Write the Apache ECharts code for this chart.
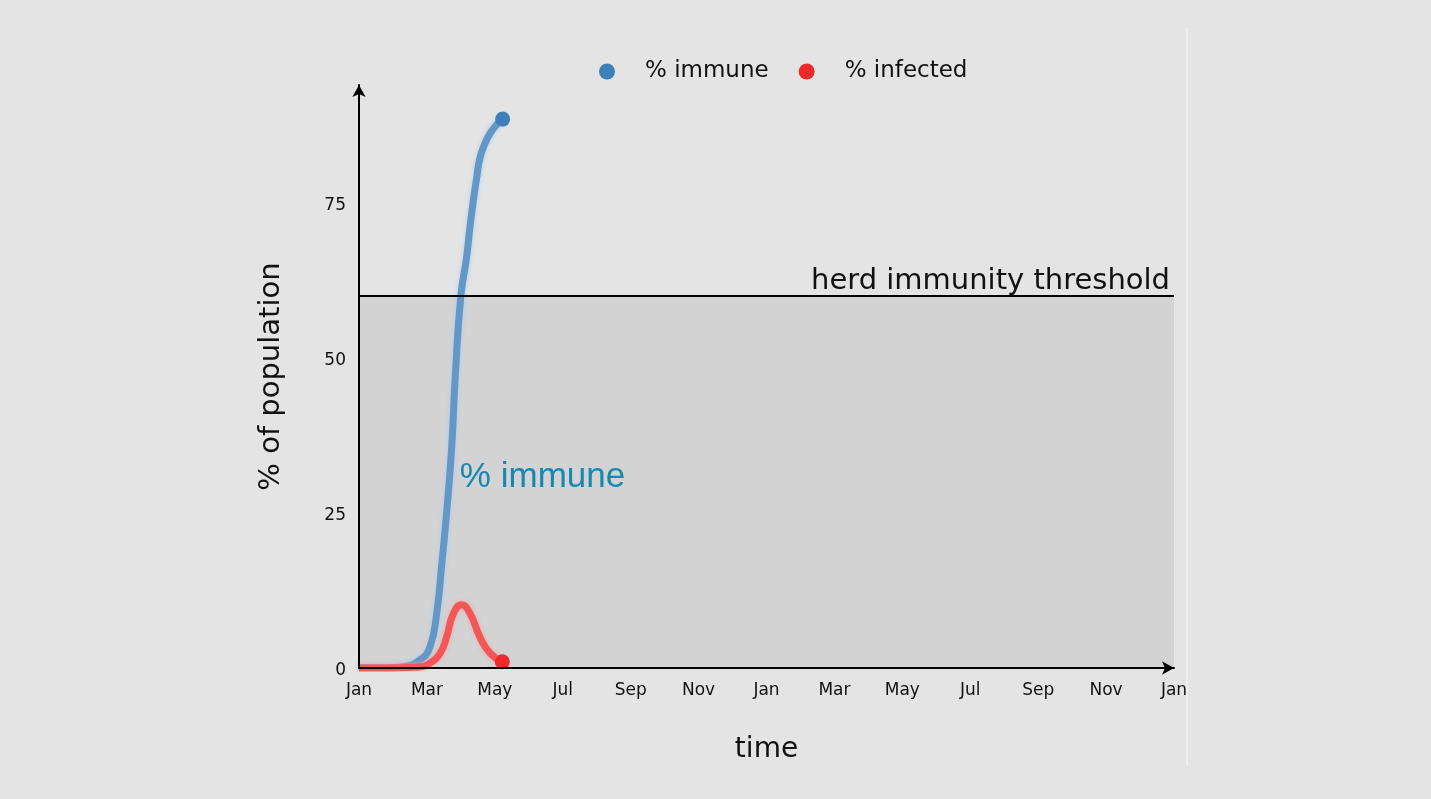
<!DOCTYPE html>
<html>
<head>
<meta charset="utf-8">
<script src="https://cdn.jsdelivr.net/npm/echarts@6/dist/echarts.min.js"></script>
<style>
  html, body { margin: 0; padding: 0; background: #e4e4e4; }
  #chart { width: 1431px; height: 799px; }
</style>
</head>
<body>
<div id="chart"></div>
<script>
// months since the first January
const monthLabels = ['Jan', 'Mar', 'May', 'Jul', 'Sep', 'Nov', 'Jan', 'Mar', 'May', 'Jul', 'Sep', 'Nov', 'Jan']
const immuneMonths = [0, 0.9, 1.3, 1.8, 2.09, 2.29, 2.44, 2.58, 2.73, 2.83, 3.0, 3.17, 3.27, 3.37, 3.47, 3.56, 3.71, 3.86, 4.05, 4.23]
const immuneValues = [0, 0, 0.2, 1.3, 3.4, 8.9, 16.9, 25, 35.6, 46.5, 60, 66.3, 71.2, 75.5, 79.2, 82.2, 84.6, 86.2, 87.6, 88.5]
const infectedMonths = [0, 1.5, 1.8, 2.09, 2.39, 2.58, 2.78, 3.02, 3.27, 3.56, 3.86, 4.22]
const infectedValues = [0, 0.1, 0.2, 0.8, 2.4, 5.0, 8.8, 10.2, 8.8, 5.0, 2.4, 1.0]
const threshold = 60

const chart = echarts.init(document.getElementById('chart'))

const toPoints = (xs, ys, color) => xs.map((x, i) => {
  if (i === xs.length - 1) {
    return { value: [x, ys[i]], symbol: 'circle', symbolSize: 15, itemStyle: { color } }
  }
  return [x, ys[i]]
})

const font = 'DejaVu Sans, Verdana, sans-serif'

chart.setOption({
  backgroundColor: '#e4e4e4',
  animation: false,
  legend: {
    top: 55,
    left: 594,
    icon: 'circle',
    itemWidth: 16,
    itemHeight: 16,
    itemGap: 30,
    textStyle: { fontFamily: font, fontSize: 23, color: '#111', padding: [0, 0, 0, 25] },
    data: ['% immune', '% infected']
  },
  grid: { left: 359, right: 257, top: 85, bottom: 131 },
  xAxis: {
    type: 'value',
    min: 0,
    max: 24,
    interval: 2,
    z: 10,
    name: 'time',
    nameLocation: 'middle',
    nameGap: 68,
    nameTextStyle: { fontFamily: font, fontSize: 28, color: '#111' },
    axisLine: { lineStyle: { color: '#000', width: 2 }, symbol: ['none', 'arrow'], symbolSize: [10, 12] },
    axisTick: { show: false },
    splitLine: { show: false },
    axisLabel: {
      fontFamily: font, fontSize: 17, color: '#111', margin: 14,
      formatter: (v) => monthLabels[Math.round(v / 2)]
    }
  },
  yAxis: {
    type: 'value',
    min: 0,
    max: 94,
    interval: 25,
    z: 10,
    name: '% of population',
    nameLocation: 'middle',
    nameGap: 73,
    nameTextStyle: { fontFamily: font, fontSize: 29, color: '#111' },
    axisLine: { lineStyle: { color: '#000', width: 2 }, symbol: ['none', 'arrow'], symbolSize: [10, 12] },
    axisTick: { show: false },
    splitLine: { show: false },
    axisLabel: { fontFamily: font, fontSize: 17, color: '#111', margin: 13, lineHeight: 24, verticalAlign: 'top', padding: [-9, 0, 0, 0], showMaxLabel: false }
  },
  graphic: [
    { type: 'rect', shape: { x: 1186, y: 28, width: 2, height: 738 }, style: { fill: '#efefef' }, silent: true }
  ],
  series: [
    {
      name: 'threshold',
      type: 'line',
      data: [],
      markArea: {
        silent: true,
        itemStyle: { color: '#d3d3d3' },
        data: [[{ yAxis: 0, xAxis: 0 }, { yAxis: threshold, xAxis: 24 }]]
      },
      markLine: {
        silent: true,
        symbol: ['none', 'none'],
        lineStyle: { color: '#000', width: 2, type: 'solid' },
        label: {
          position: 'insideEndTop',
          formatter: 'herd immunity threshold',
          fontFamily: font,
          fontSize: 29,
          color: '#111',
          distance: [4, 0]
        },
        data: [{ yAxis: threshold }]
      },
      z: 1
    },
    {
      name: '% immune',
      type: 'line',
      smooth: 0.5,
      symbol: 'none',
      showSymbol: true,
      color: '#3f7fb9',
      lineStyle: { color: '#6496c6', width: 7, shadowColor: 'rgba(160,205,245,0.9)', shadowBlur: 4 },
      data: toPoints(immuneMonths, immuneValues, '#3f7fb9'),
      markPoint: {
        symbol: 'circle',
        symbolSize: 0,
        silent: true,
        label: {
          show: true,
          position: 'right',
          formatter: '% immune',
          fontFamily: 'Liberation Sans, Arial, sans-serif',
          fontSize: 35,
          color: '#1987b3',
          distance: 0
        },
        data: [{ coord: [2.97, 30.7] }]
      },
      z: 3
    },
    {
      name: '% infected',
      type: 'line',
      smooth: 0.5,
      symbol: 'none',
      showSymbol: true,
      color: '#f02a2a',
      lineStyle: { color: '#f25757', width: 7, shadowColor: 'rgba(250,160,160,0.9)', shadowBlur: 4 },
      data: toPoints(infectedMonths, infectedValues, '#f02a2a'),
      z: 4
    }
  ]
})
</script>
</body>
</html>
